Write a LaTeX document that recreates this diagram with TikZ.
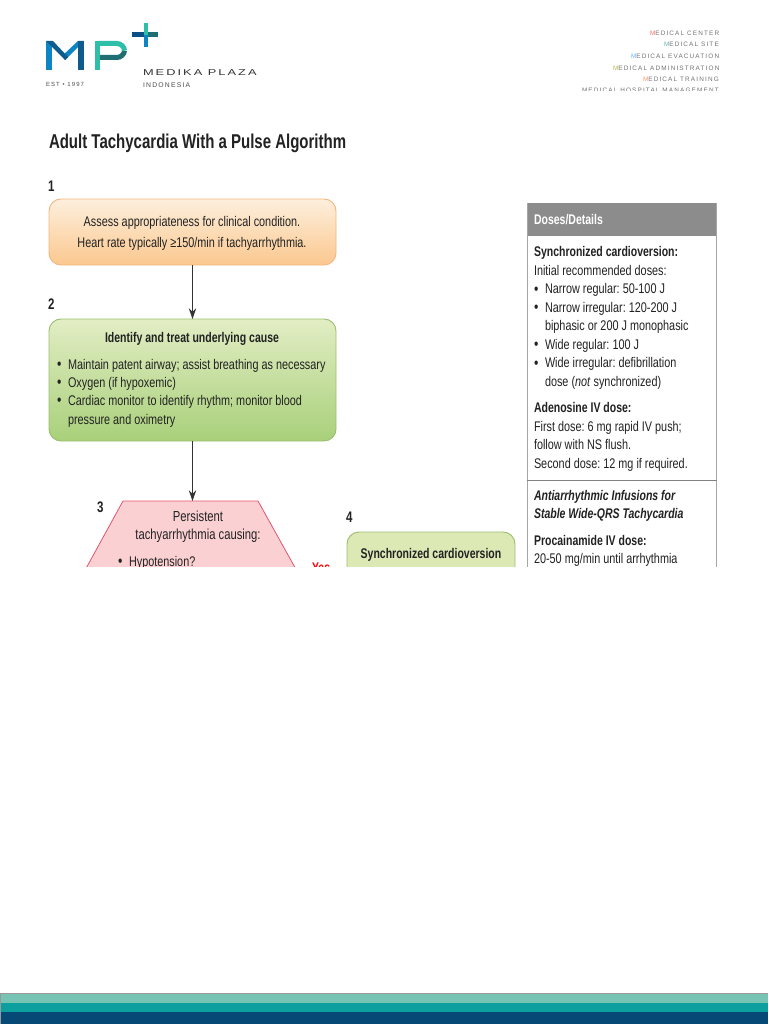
\documentclass[tikz,border=0pt]{standalone}
\usepackage{fontspec}
\setmainfont[FakeStretch=0.775,BoldFeatures={FakeStretch=0.75},BoldItalicFeatures={FakeStretch=0.75}]{Liberation Sans}
\newfontfamily\spaced[LetterSpace=18]{Liberation Sans}
\newfontfamily\widefont[FakeStretch=1.5,LetterSpace=24]{Liberation Sans}
\newfontfamily\titlefont[FakeStretch=0.75]{Liberation Sans}
\usetikzlibrary{arrows.meta}
\definecolor{txt}{HTML}{222222}
\definecolor{logolight}{HTML}{0D85C4}
\definecolor{logodark}{HTML}{0F5C8C}
\definecolor{logoteal}{HTML}{2DBFA8}
\definecolor{logodteal}{HTML}{1F6E74}
\definecolor{logonavy}{HTML}{0B4F86}
\definecolor{bandmint}{HTML}{78C4B4}
\definecolor{bandteal}{HTML}{0D9E9E}
\definecolor{bandnavy}{HTML}{064876}
\definecolor{orangeline}{HTML}{F2B77E}
\definecolor{orangetop}{HTML}{FDEFDD}
\definecolor{orangebot}{HTML}{FBC88F}
\definecolor{greenline}{HTML}{9DBE70}
\definecolor{greentop}{HTML}{E2EDC4}
\definecolor{greenbot}{HTML}{A8D07A}
\definecolor{greenflat}{HTML}{DCE9B5}
\definecolor{pinkfill}{HTML}{FBD0D3}
\definecolor{pinkline}{HTML}{E0566E}
\frenchspacing
\tikzset{
  x=0.75pt,y=-0.75pt,
  every node/.style={inner sep=0pt,outer sep=0pt,text=txt},
  body/.style={font=\fontsize{10.5}{12}\selectfont\frenchspacing,anchor=base west},
  bodyc/.style={font=\fontsize{10.5}{12}\selectfont\frenchspacing,anchor=base},
  head/.style={font=\fontsize{10.5}{12}\selectfont\bfseries\frenchspacing,anchor=base west},
  headc/.style={font=\fontsize{10.5}{12}\selectfont\bfseries\frenchspacing,anchor=base},
  num/.style={font=\fontsize{11.5}{13}\selectfont\bfseries,anchor=base west},
  mini/.style={font=\fontsize{4.8}{6}\spaced,anchor=base west,text=black!55},
  logotxt/.style={font=\fontsize{6.4}{8}\widefont,anchor=base west,text=black!80},
  orangebox/.style={rounded corners=9pt,draw=orangeline,line width=.7pt,top color=orangetop,bottom color=orangebot,minimum width=215.25pt,minimum height=49.5pt},
  greenbox/.style={rounded corners=9pt,draw=greenline,line width=.7pt,top color=greentop,bottom color=greenbot,minimum width=215.25pt,minimum height=91.5pt},
  flow/.style={draw=black!80,line width=.7pt,-{Stealth[length=8pt,width=5.5pt]}}
}
\begin{document}
\begin{tikzpicture}
\useasboundingbox (0,0) rectangle (768,1024);
\fill[white] (0,0) rectangle (768,1024);

% logo
\begin{scope}
\clip (0,0) rectangle (768,86.3);
\fill[logolight] (46,41) rectangle (52,70);
\fill[logolight] (84,41) -- (78,41) -- (62,56) -- (65,60) -- cycle;
\fill[logodark] (46,41) -- (53,41) -- (68,57) -- (65,60) -- cycle;
\fill[logodark] (78,41) rectangle (84,70);
\draw[logodteal,line width=3.75pt] (124.5,50.5) .. controls (124.5,54) and (121,57.5) .. (117,57.5) -- (98,57.5);
\draw[logoteal,line width=3.75pt] (97.5,43.5) -- (117,43.5) .. controls (121,43.5) and (124.5,47) .. (124.5,50.5);
\fill[logoteal] (95,41) rectangle (100,70);
\fill[logonavy] (132,32.5) rectangle (145,37);
\fill[logodteal] (145,32.5) rectangle (158,37);
\fill[logoteal] (143.5,23) rectangle (148,35);
\fill[logolight] (143.5,35) rectangle (148,47);
\node[logotxt] (brand) at (143,75) {MEDIKA PLAZA};
\node[mini,text=black!70,font=\fontsize{5.1}{6}\spaced] (country) at (143,87.5) {INDONESIA};
\node[mini,text=black!70,font=\fontsize{4.5}{6}\spaced] (est) at (46,87) {EST • 1997};
\end{scope}

% services list
\begin{scope}
\clip (560,25) rectangle (718,90.3);
\node[mini] (s1) at (650,35.5) {\textcolor{red!60!white}{M}EDICAL CENTER};
\node[mini] (s2) at (664,47) {\textcolor{teal!60!white}{M}EDICAL SITE};
\node[mini] (s3) at (631,58.5) {\textcolor{blue!50!cyan!60!white}{M}EDICAL EVACUATION};
\node[mini] (s4) at (613,70) {\textcolor{olive!60!white}{M}EDICAL ADMINISTRATION};
\node[mini] (s5) at (643,82) {\textcolor{orange!60!red!60!white}{M}EDICAL TRAINING};
\node[mini] (s6) at (582,92.5) {MEDICAL HOSPITAL MANAGEMENT};
\end{scope}

\node[font=\fontsize{15}{18}\titlefont\bfseries,anchor=base west] (title) at (49,148) {Adult Tachycardia With a Pulse Algorithm};

\begin{scope}
\clip (0,100) rectangle (768,566);
\node[num] (n1) at (48,191) {1};
\node[num] (n2) at (48,309) {2};
\node[num] (n3) at (97,512) {3};
\node[num] (n4) at (346,522) {4};

\node[orangebox] (b1) at (192.5,232) {};
\node[bodyc] (b1a) at (192,226) {Assess appropriateness for clinical condition.};
\node[bodyc] (b1b) at (192,247) {Heart rate typically ≥150/min if tachyarrhythmia.};

\node[greenbox] (b2) at (192.5,380) {};
\node[headc] (b2t) at (192,342) {Identify and treat underlying cause};
\node[body,font=\fontsize{12}{12}\selectfont] (d1) at (57,369.5) {•};
\node[body] (l1) at (68,369) {Maintain patent airway; assist breathing as necessary};
\node[body,font=\fontsize{12}{12}\selectfont] (d2) at (57,387.5) {•};
\node[body] (l2) at (68,387) {Oxygen (if hypoxemic)};
\node[body,font=\fontsize{12}{12}\selectfont] (d3) at (57,405.5) {•};
\node[body] (l3) at (68,405) {Cardiac monitor to identify rhythm; monitor blood};
\node[body] (l4) at (68,424) {pressure and oximetry};

\draw[flow] (b1.south) -- (b2.north);

\coordinate (t3) at (192.5,501);
\path[fill=pinkfill,draw=pinkline,line width=.6pt] (123,501) -- (258,501) -- (332,634) -- (50,634) -- cycle;
\draw[flow] (b2.south) -- (t3);
\node[bodyc,font=\fontsize{10.9}{12}\selectfont\frenchspacing] (t1) at (198,521) {Persistent};
\node[bodyc,font=\fontsize{10.9}{12}\selectfont\frenchspacing] (t2) at (198,539) {tachyarrhythmia causing:};
\node[body,font=\fontsize{12}{12}\selectfont] (t3d) at (118,566.5) {•};
\node[body] (t3l) at (129,566) {Hypotension?};
\node[font=\fontsize{10.5}{12}\selectfont\bfseries,text=red,anchor=base west] (yes) at (312,572) {Yes};

\path[fill=greenflat,draw=greenline,line width=.7pt,rounded corners=9pt] (347,620) -- (347,532) -- (515,532) -- (515,620);
\node[headc] (b4t) at (431,558) {Synchronized cardioversion};

% panel
\fill[black!45] (527,203) rectangle (716.5,236);
\draw[black!35,line width=.7pt] (527,203) -- (527,600) (716.5,203) -- (716.5,600);
\draw[black!50,line width=.7pt] (527,480) -- (716.5,480);
\node[font=\fontsize{10.5}{12}\selectfont\bfseries,text=white,anchor=base west] (ph) at (534,224.5) {Doses/Details};
\node[head] (p1) at (534,256.5) {Synchronized cardioversion:};
\node[body] (p2) at (534,275) {Initial recommended doses:};
\node[body,font=\fontsize{12}{12}\selectfont] (pd1) at (534,294) {•};
\node[body] (p3) at (545,293.5) {Narrow regular: 50-100 J};
\node[body,font=\fontsize{12}{12}\selectfont] (pd2) at (534,312.5) {•};
\node[body] (p4) at (545,312) {Narrow irregular: 120-200 J};
\node[body] (p5) at (545,330.5) {biphasic or 200 J monophasic};
\node[body,font=\fontsize{12}{12}\selectfont] (pd3) at (534,349.5) {•};
\node[body] (p6) at (545,349) {Wide regular: 100 J};
\node[body,font=\fontsize{12}{12}\selectfont] (pd4) at (534,368) {•};
\node[body] (p7) at (545,367.5) {Wide irregular: defibrillation};
\node[body] (p8) at (545,386) {dose (\textit{not} synchronized)};
\node[head] (p9) at (534,412.5) {Adenosine IV dose:};
\node[body] (p10) at (534,431) {First dose: 6 mg rapid IV push;};
\node[body] (p11) at (534,449.5) {follow with NS flush.};
\node[body] (p12) at (534,468) {Second dose: 12 mg if required.};
\node[head,font=\fontsize{10.5}{12}\selectfont\bfseries\itshape\frenchspacing] (p13) at (534,500) {Antiarrhythmic Infusions for};
\node[head,font=\fontsize{10.5}{12}\selectfont\bfseries\itshape\frenchspacing] (p14) at (534,518.5) {Stable Wide-QRS Tachycardia};
\node[head] (p15) at (534,545) {Procainamide IV dose:};
\node[body] (p16) at (534,563.5) {20-50 mg/min until arrhythmia};
\end{scope}

% footer band
\fill[black!40] (0,992.5) rectangle (768,1024);
\fill[bandmint] (1,993.5) rectangle (768,1003);
\fill[bandteal] (1,1003) rectangle (768,1012);
\fill[bandnavy] (1,1012) rectangle (768,1024);
\end{tikzpicture}
\end{document}
